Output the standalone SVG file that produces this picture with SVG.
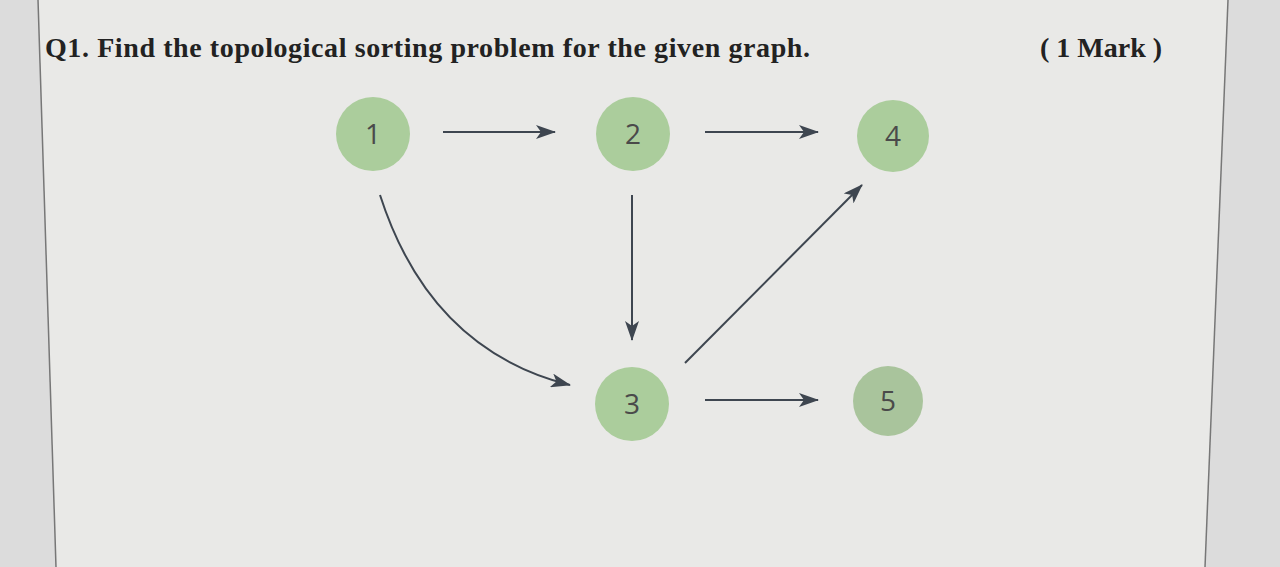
<svg xmlns="http://www.w3.org/2000/svg" width="1280" height="567" viewBox="0 0 1280 567">
<defs>
<marker id="ah" viewBox="0 0 20 14" refX="19" refY="7" markerWidth="20" markerHeight="14" markerUnits="userSpaceOnUse" orient="auto"><path d="M0,0 L20,7 L0,14 L5,7 Z" fill="#3e4650"/></marker>
<style>
.n{fill:#abcd9c}
.t{font-family:"Open Sans",sans-serif;font-size:28px;fill:#4a4a4a;text-anchor:middle}
.e{stroke:#3e4650;stroke-width:2;fill:none;marker-end:url(#ah)}
</style>
</defs>
<rect width="1280" height="567" fill="#dcdcdc"/>
<polygon points="38,0 1228,0 1205,567 56,567" fill="#e9e9e7"/>
<line x1="38" y1="0" x2="56" y2="567" stroke="#777" stroke-width="1.5"/>
<line x1="1228" y1="0" x2="1205" y2="567" stroke="#777" stroke-width="1.5"/>
<text x="45" y="57" font-family="Liberation Serif,serif" font-weight="bold" font-size="28" fill="#222" textLength="765" lengthAdjust="spacing">Q1. Find the topological sorting problem for the given graph.</text>
<text x="1040" y="57" font-family="Liberation Serif,serif" font-weight="bold" font-size="28" fill="#222">( 1 Mark )</text>
<g id="edges">
<line class="e" x1="443" y1="132" x2="555" y2="132"/>
<line class="e" x1="705" y1="132" x2="818" y2="132"/>
<line class="e" x1="632" y1="195" x2="632" y2="340"/>
<path class="e" d="M380,195 Q430,350 570,385"/>
<line class="e" x1="685" y1="363" x2="862" y2="185"/>
<line class="e" x1="705" y1="400" x2="818" y2="400"/>
</g>
<g id="n1"><circle class="n" cx="373" cy="134" r="37"/><text class="t" x="373" y="144">1</text></g>
<g id="n2"><circle class="n" cx="633" cy="134" r="37"/><text class="t" x="633" y="144">2</text></g>
<g id="n4"><circle class="n" cx="893" cy="136" r="36"/><text class="t" x="893" y="146">4</text></g>
<g id="n3"><circle class="n" cx="632" cy="404" r="37"/><text class="t" x="632" y="414">3</text></g>
<g id="n5"><circle cx="888" cy="401" r="35" fill="#a9c49c"/><text class="t" x="888" y="411">5</text></g>
</svg>
